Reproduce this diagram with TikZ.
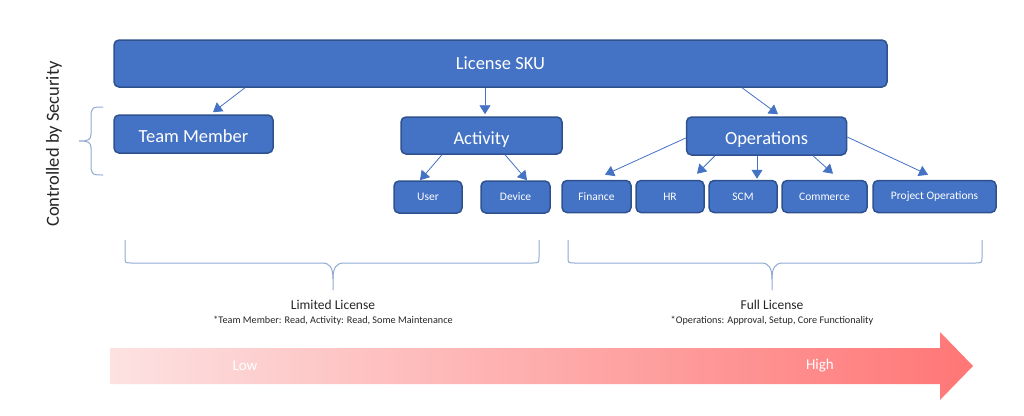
\documentclass[tikz,border=0pt]{standalone}
\usepackage{fontspec}
\setmainfont{Carlito}
\usetikzlibrary{arrows.meta,calc}
\definecolor{boxfill}{RGB}{68,114,196}
\definecolor{boxline}{RGB}{47,82,143}
\definecolor{bracecol}{RGB}{143,170,210}
\definecolor{lowred}{RGB}{253,226,226}
\definecolor{highred}{RGB}{255,118,118}
\definecolor{txt}{RGB}{38,38,38}
\tikzset{
  bigbox/.style={draw=boxline, fill=boxfill, line width=1.5pt, rounded corners=5pt,
    text=white, inner sep=0pt, font=\fontsize{18.5}{20}\selectfont},
  midbox/.style={bigbox, text height=17pt, text depth=0pt},
  smallbox/.style={draw=boxline, fill=boxfill, line width=1.5pt, rounded corners=5pt,
    text=white, inner sep=0pt, minimum height=32pt, font=\fontsize{11.5}{13}\selectfont},
  conn/.style={draw=boxfill, line width=0.8pt, -{Triangle[length=9pt,width=11pt]}},
  bracestyle/.style={draw=bracecol, line width=1pt},
  lbl/.style={text=txt, inner sep=0pt, font=\fontsize{13.5}{15}\selectfont},
  note/.style={text=txt, inner sep=0pt, font=\fontsize{10.2}{12}\selectfont}
}
\begin{document}
\begin{tikzpicture}[x=1pt,y=-1pt]
\useasboundingbox[fill=white] (0,0) rectangle (1024,415);

% boxes
\node[bigbox, minimum width=773pt, minimum height=47pt] (sku) at (500.5,63.5) {License SKU};
\node[midbox, minimum width=159pt, minimum height=38pt] (tm) at (193.5,134) {Team Member};
\node[midbox, minimum width=161pt, minimum height=37pt] (act) at (481.5,135.5) {Activity};
\node[midbox, minimum width=160pt, minimum height=38pt] (ops) at (766.5,136) {Operations};

\node[smallbox, minimum width=68pt] (user) at (428,197) {User};
\node[smallbox, minimum width=69pt] (dev) at (515.5,197) {Device};
\node[smallbox, minimum width=69pt] (fin) at (596.5,196.5) {Finance};
\node[smallbox, minimum width=68pt] (hr) at (670,196.5) {HR};
\node[smallbox, minimum width=68pt] (scm) at (743,196.5) {SCM};
\node[smallbox, minimum width=85pt] (com) at (824.5,196.5) {Commerce};
\node[smallbox, minimum width=123pt] (po) at (934.5,196.5) {Project Operations};

% connectors
\draw[conn] ([xshift=-255.5pt]sku.south) -- ([xshift=19.5pt,yshift=2pt]tm.north);
\draw[conn] ([xshift=-15.5pt]sku.south) -- ([xshift=3.5pt,yshift=2pt]act.north);
\draw[conn] ([xshift=241.5pt]sku.south) -- ([xshift=11.5pt,yshift=2pt]ops.north);
\draw[conn] ([xshift=-39.5pt]act.south) -- ([xshift=-8pt]user.north);
\draw[conn] ([xshift=23.5pt]act.south) -- ([xshift=11.5pt]dev.north);
\draw[conn] ([yshift=-2pt]ops.west) -- ([xshift=8.5pt,yshift=5pt]fin.north);
\draw[conn] ([xshift=-51.5pt]ops.south) -- ([xshift=27pt,yshift=6pt]hr.north);
\draw[conn] ([xshift=-9.5pt]ops.south) -- ([xshift=14pt,yshift=1pt]scm.north);
\draw[conn] ([xshift=46.5pt]ops.south) -- ([xshift=8.5pt,yshift=6pt]com.north);
\draw[conn] ([yshift=-1pt]ops.east) -- ([xshift=-6.5pt,yshift=5pt]po.north);

% left brace
\draw[bracestyle] (103,107) .. controls (93,107) .. (91,113) -- (91,134)
  .. controls (91,140) and (88,141) .. (79,141)
  .. controls (88,141) and (91,142) .. (91,148) -- (91,169)
  .. controls (93,175) .. (103,175);
\node[text=txt, rotate=90, inner sep=0pt, font=\fontsize{18.5}{20}\selectfont] (sec) at (54,144) {Controlled by Security};

% bottom braces
\draw[bracestyle] (125,240) -- (125,257) .. controls (125,263) .. (132,263) -- (322,263)
  .. controls (330,263) and (333,268) .. (333,279) -- (333,290);
\draw[bracestyle] (539,240) -- (539,257) .. controls (539,263) .. (532,263) -- (344,263)
  .. controls (336,263) and (333,268) .. (333,279);
\draw[bracestyle] (568,240) -- (568,257) .. controls (568,263) .. (575,263) -- (761,263)
  .. controls (769,263) and (772,268) .. (772,279) -- (772,290);
\draw[bracestyle] (982,240) -- (982,257) .. controls (982,263) .. (975,263) -- (783,263)
  .. controls (775,263) and (772,268) .. (772,279);

\node[lbl] (lim) at (333,305) {Limited License};
\node[note] (limn) at (333,321) {*Team Member: Read, Activity: Read, Some Maintenance};
\node[lbl] (full) at (772,305) {Full License};
\node[note] (fulln) at (772,321) {*Operations: Approval, Setup, Core Functionality};

% gradient arrow
\shade[left color=lowred, right color=highred]
  (110,348) -- (940,348) -- (940,332) -- (973,366) -- (940,400) -- (940,384) -- (110,384) -- cycle;
\node[text=white, inner sep=0pt, font=\fontsize{15}{17}\selectfont] (low) at (245,366) {Low};
\node[text=white, inner sep=0pt, font=\fontsize{15}{17}\selectfont] (high) at (820,366) {High};
\end{tikzpicture}
\end{document}
